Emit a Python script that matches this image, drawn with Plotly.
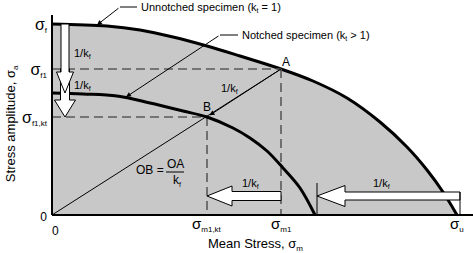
import plotly.graph_objects as go

# ---- data (arbitrary stress units) ----
unnotched_x = [0, 55, 88, 121, 155, 188, 229, 261, 295, 328, 355, 375, 391, 405]
unnotched_y = [191, 189, 185, 178, 169, 159, 146, 134, 117, 93, 68, 45, 23, 0]
notched_x = [0, 31, 65, 98, 131, 155, 181, 198, 215, 231, 248, 263]
notched_y = [122, 121, 119, 112, 104, 98, 87, 77, 64, 47, 27, 0]

sigma_f = 191
sigma_f_kf = 122
sigma_u = 405
sigma_u_kf = 263
sigma_m1, sigma_f1 = 229, 146          # point A
sigma_m1_kt, sigma_f1_kt = 155, 98     # point B

x_tickvals = [sigma_m1_kt, sigma_m1, sigma_u]
x_ticktext = ["σ<sub><span style='font-size:8px'>m1,kt</span></sub>",
              "σ<sub><span style='font-size:8px'>m1</span></sub>",
              "σ<sub><span style='font-size:8px'>u</span></sub>"]
y_tickvals = [0, sigma_f1_kt, sigma_f1, sigma_f]
y_ticktext = ["<span style='font-size:12px'>0</span>",
              "σ<sub><span style='font-size:8px'>f1,kt</span></sub>",
              "σ<sub><span style='font-size:8px'>f1</span></sub>",
              "σ<sub><span style='font-size:8px'>f</span></sub>"]

GRAY = "#c8c8c8"
FONT = "Liberation Sans, Arial, sans-serif"
KF = "1/k<sub><span style='font-size:7px'>f</span></sub>"
PLOT_H = 218  # plot-area height in px (paper coords)

fig = go.Figure()

# shaded region under unnotched curve
fig.add_trace(go.Scatter(x=unnotched_x, y=unnotched_y, mode="lines", fill="tozeroy",
                         fillcolor=GRAY, line=dict(color="black", width=3, shape="spline"),
                         hoverinfo="skip"))

def seg(x, y, color="black", width=1, dash=None):
    fig.add_trace(go.Scatter(x=x, y=y, mode="lines",
                             line=dict(color=color, width=width, dash=dash),
                             hoverinfo="skip"))

# dashed guides
DASH = "9px,5px"
seg([0, sigma_m1], [sigma_f1, sigma_f1], "#5a5a5a", 1.6, DASH)
seg([sigma_m1, sigma_m1], [sigma_f1, 0], "#5a5a5a", 1.6, DASH)
seg([0, sigma_m1_kt], [sigma_f1_kt, sigma_f1_kt], "#5a5a5a", 1.6, DASH)
seg([sigma_m1_kt, sigma_m1_kt], [sigma_f1_kt, 0], "#5a5a5a", 1.6, DASH)

# line O-A
seg([0, sigma_m1], [0, sigma_f1], "black", 1)

# notched curve
fig.add_trace(go.Scatter(x=notched_x, y=notched_y, mode="lines",
                         line=dict(color="black", width=3, shape="spline"), hoverinfo="skip"))

def polygon(xs, ys):
    fig.add_trace(go.Scatter(x=xs, y=ys, mode="lines", fill="toself", fillcolor="white",
                             line=dict(color="black", width=1), hoverinfo="skip"))

def h_arrow(x_tail, x_tip, yc, sh=4.5, hh=10, hl=25):
    d = 1 if x_tip > x_tail else -1
    xn = x_tip - d * hl
    polygon([x_tail, xn, xn, x_tip, xn, xn, x_tail, x_tail],
            [yc + sh, yc + sh, yc + hh, yc, yc - hh, yc - sh, yc - sh, yc + sh])

def v_arrow(xc, y_tail, y_tip, sh=4.5, hh=9, hl=20):
    d = 1 if y_tip > y_tail else -1
    yn = y_tip - d * hl
    polygon([xc - sh, xc - sh, xc - hh, xc, xc + hh, xc + sh, xc + sh, xc - sh],
            [y_tail, yn, yn, y_tip, yn, yn, y_tail, y_tail])

ARROW_Y = 19
h_arrow(sigma_m1, sigma_m1_kt, ARROW_Y)
h_arrow(sigma_u + 3, sigma_u_kf + 2, ARROW_Y, sh=4, hh=10.5, hl=28)
seg([sigma_u_kf + 2, sigma_u_kf + 2], [0, 32], "black", 1)
seg([sigma_u + 3, sigma_u + 3], [0, 23], "black", 1)

v_arrow(13, sigma_f1, sigma_f1_kt, sh=4.5, hh=10.5, hl=17)
v_arrow(13, sigma_f, sigma_f_kf, sh=4, hh=8.5, hl=21)

# axes
seg([0, 0], [0, 200], "black", 2)
seg([0, 421], [0, 0], "black", 2)

# leader lines
seg([68, 85], [208, 208], "black", 1)
seg([168, 186], [180, 180], "black", 1)
# fraction bar
seg([114, 132], [43, 43], "black", 1)

ann = []
def txt(x, y, t, size=11, xanchor="center", **kw):
    ann.append(dict(x=x, y=y, xref="x", yref="y", text=t, showarrow=False,
                    xanchor=xanchor, yanchor="middle", font=dict(size=size, color="black", family=FONT), **kw))

def arr(x, y, ax, ay, standoff=0):
    ann.append(dict(x=x, y=y, ax=ax, ay=ay, xref="x", yref="y", axref="x", ayref="y",
                    text="", showarrow=True, arrowhead=2, arrowsize=1, arrowwidth=1,
                    arrowcolor="black", standoff=standoff))

txt(87, 208, "Unnotched specimen (k<sub><span style='font-size:7px'>t</span></sub> = 1)", xanchor="left")
txt(188, 180, "Notched specimen (k<sub><span style='font-size:7px'>t</span></sub> > 1)", xanchor="left")
arr(45, 190, 68, 208)
arr(74, 118, 168, 180)
arr(sigma_m1_kt, sigma_f1_kt, sigma_m1, sigma_f1, standoff=3)

txt(234, 153, "A", 12)
txt(155, 108, "B", 12)
txt(177, 127, KF)
txt(30, 162, KF)
txt(30, 130, KF)
txt(198, 32, KF)
txt(329, 32, KF)
txt(98, 45, "OB =", 12)
txt(123, 51, "OA", 12)
txt(125, 35, "k<sub><span style='font-size:7px'>f</span></sub>", 12)

# x tick labels as annotations (x from data, y in paper coords below the axis)
for v, t in zip(x_tickvals, x_ticktext):
    ann.append(dict(x=v, y=(PLOT_H - 225) / PLOT_H, xref="x", yref="paper", text=t,
                    showarrow=False, xanchor="center", yanchor="middle",
                    font=dict(size=15, color="black", family=FONT)))
ann.append(dict(x=3, y=(PLOT_H - 231) / PLOT_H, xref="x", yref="paper", text="0",
                showarrow=False, xanchor="center", yanchor="middle",
                font=dict(size=12, color="black", family=FONT)))

# axis titles (paper coordinates: plot area spans px 50..473 horizontally, 0..218 vertically)
ann.append(dict(x=0.485, y=(PLOT_H - 244) / PLOT_H, xref="paper", yref="paper",
                text="Mean Stress, σ<sub><span style='font-size:8px'>m</span></sub>",
                showarrow=False, xanchor="center", yanchor="middle",
                font=dict(size=13, color="black", family=FONT)))
ann.append(dict(x=-0.092, y=0.431, xref="paper", yref="paper",
                text="Stress amplitude, σ<sub><span style='font-size:8px'>a</span></sub>",
                showarrow=False, textangle=-90, xanchor="center", yanchor="middle",
                font=dict(size=13, color="black", family=FONT)))

fig.update_layout(
    width=473, height=253,
    margin=dict(l=50, r=0, t=0, b=35, autoexpand=False),
    paper_bgcolor="white", plot_bgcolor="white",
    showlegend=False,
    annotations=ann,
    font=dict(family=FONT, color="black"),
    xaxis=dict(range=[-2, 421], showline=False, showgrid=False, zeroline=False, automargin=False,
               showticklabels=False, ticks="", fixedrange=True),
    yaxis=dict(range=[-3, 215], showline=False, showgrid=False, zeroline=False, automargin=False,
               tickvals=y_tickvals, ticktext=y_ticktext, ticks="", tickfont=dict(size=16),
               ticklabelstandoff=2, fixedrange=True),
)

fig.write_html("out.html", config={"displayModeBar": False},
               post_script="document.body.style.margin='0';document.body.style.overflow='hidden';")
